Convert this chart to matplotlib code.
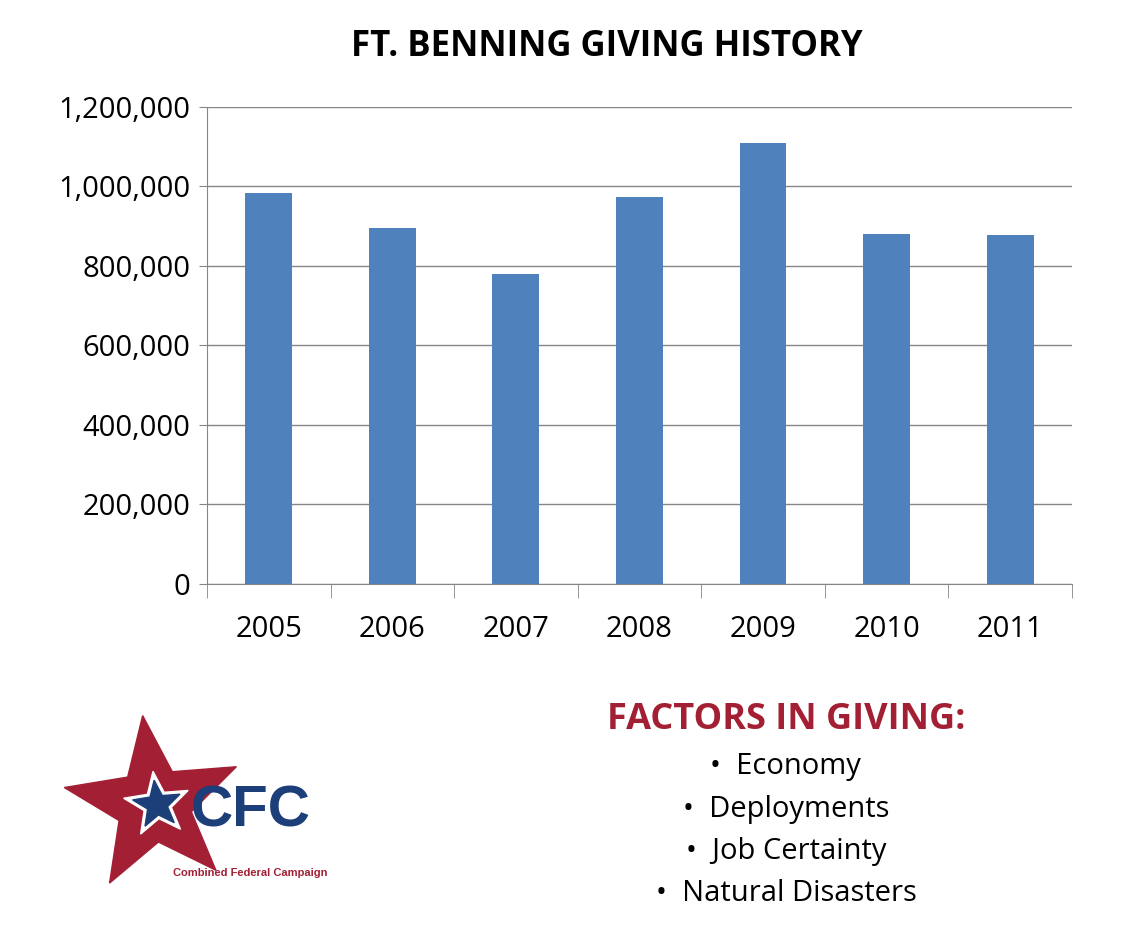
import matplotlib

matplotlib.use("Agg")
import matplotlib.pyplot as plt
import numpy as np
from matplotlib.patches import Polygon

years = ["2005", "2006", "2007", "2008", "2009", "2010", "2011"]
giving = [984000, 896000, 780000, 974000, 1109000, 880000, 878000]
factors = ["Economy", "Deployments", "Job Certainty", "Natural Disasters"]

BAR = "#4f81bd"
RED = "#a31f34"
NAVY = "#1c3f7a"
plt.rcParams["font.family"] = ["Open Sans", "DejaVu Sans"]

fig = plt.figure(figsize=(11.39, 9.44), dpi=100)
ax = fig.add_axes([0.1817, 0.3814, 0.7594, 0.5053])
x = np.arange(len(years))
ax.bar(x, giving, width=0.38, color=BAR, zorder=3)
ax.set_xlim(-0.5, len(years) - 0.5)
ax.set_ylim(0, 1200000)
ax.set_yticks(np.arange(0, 1200001, 200000))
ax.set_yticklabels([f"{v:,}" for v in range(0, 1200001, 200000)], fontsize=21)
ax.yaxis.grid(True, color="#868686", linewidth=1, zorder=0)
ax.set_xticks(x)
ax.set_xticklabels(years, fontsize=21)
ax.tick_params(axis="x", length=0, pad=22)
ax.set_xticks(np.arange(-0.5, len(years)), minor=True)
ax.tick_params(axis="x", which="minor", length=10, color="#868686")
ax.tick_params(axis="y", length=6, color="#868686", pad=6)
for s in ["top", "right"]:
    ax.spines[s].set_visible(False)
ax.spines["left"].set_color("#868686")
ax.spines["bottom"].set_color("#868686")

fig.text(0.533, 0.95, "FT. BENNING GIVING HISTORY", ha="center", va="center",
         fontsize=25, fontweight="bold")
fig.text(0.69, 0.237, "FACTORS IN GIVING:", ha="center", va="center",
         fontsize=26, fontweight="bold", color=RED)
for i, f in enumerate(factors):
    fig.text(0.69, 0.188 - i * 0.045, "\u2022  " + f, ha="center", va="center", fontsize=21)

# logo
lg = fig.add_axes([0.05, 0.055, 0.25, 0.19])
lg.set_xlim(0, 250)
lg.set_ylim(0, 160)
lg.axis("off")


def star(cx, cy, r, rot=90):
    pts = []
    for k in range(10):
        rr = r if k % 2 == 0 else r * 0.42
        a = np.deg2rad(rot + k * 36)
        pts.append((cx + rr * np.cos(a), cy + rr * np.sin(a)))
    return pts


lg.add_patch(Polygon(star(85, 78, 80, rot=97), color=RED))
lg.add_patch(Polygon(star(88, 78, 30, rot=97), color="white"))
lg.add_patch(Polygon(star(88, 78, 22, rot=97), color=NAVY))
lg.text(170, 72, "CFC", ha="center", va="center", fontsize=42, fontweight="bold",
        color=NAVY, family=["Liberation Sans", "DejaVu Sans"])
lg.text(170, 17, "Combined Federal Campaign", ha="center", va="center", fontsize=8,
        fontweight="bold", color=RED, family=["Liberation Sans", "DejaVu Sans"])

fig.savefig("out.png", dpi=100)
